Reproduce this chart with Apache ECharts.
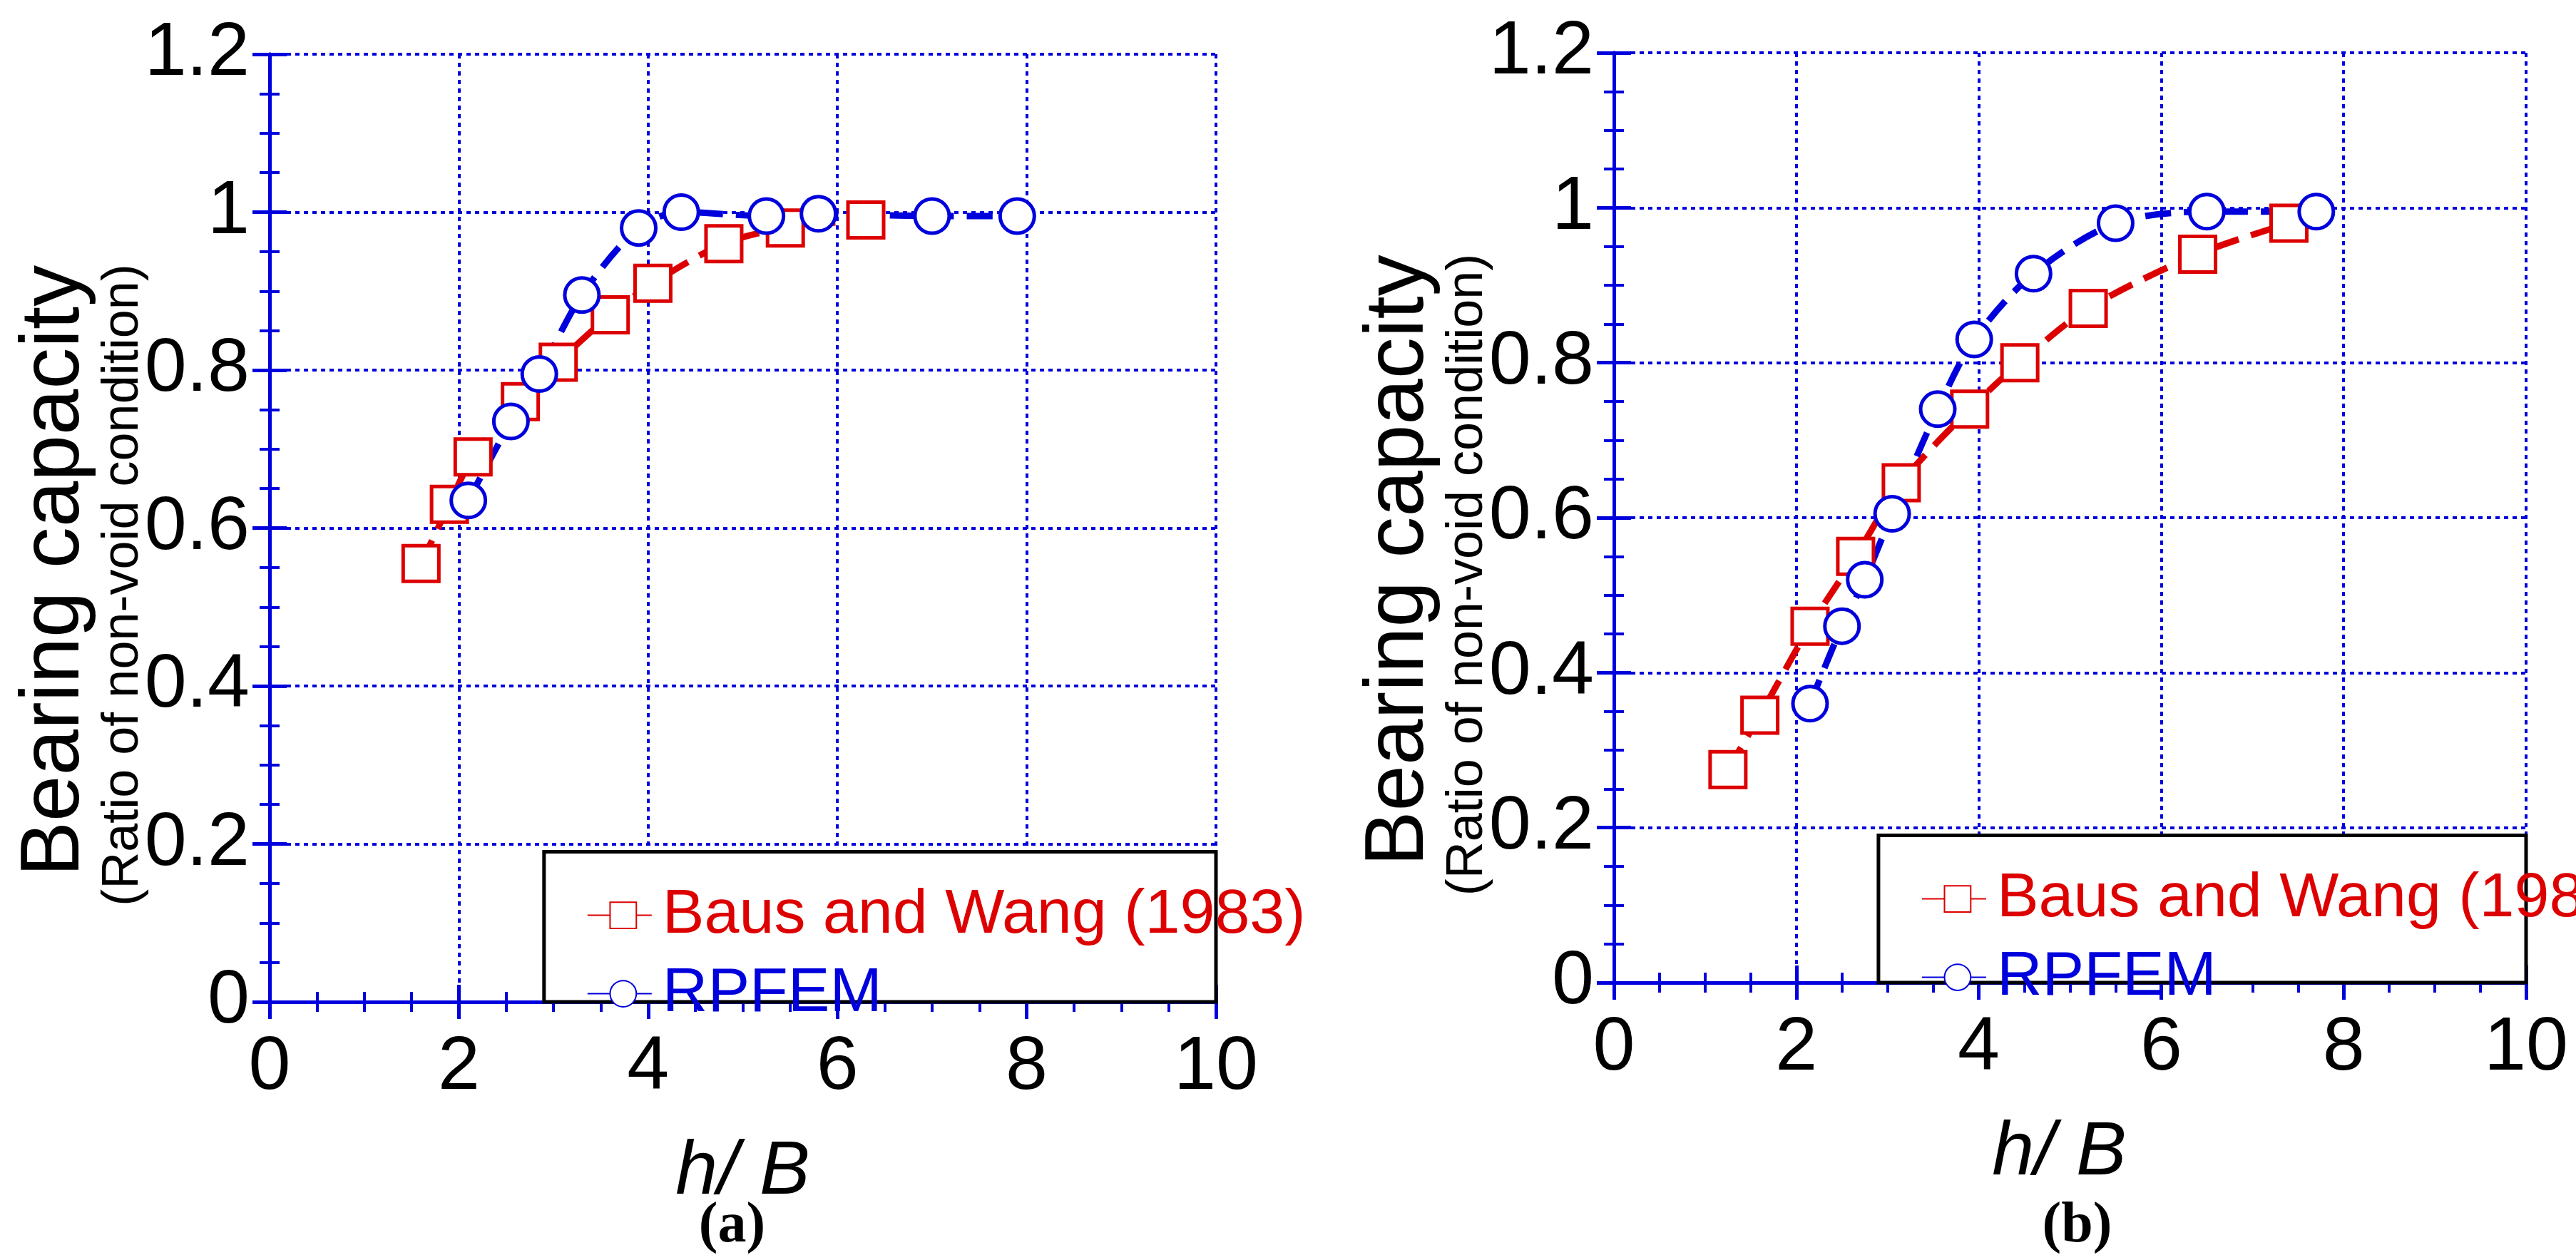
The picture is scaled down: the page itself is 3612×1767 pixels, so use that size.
<!DOCTYPE html><html><head><meta charset="utf-8"><script src="https://cdn.jsdelivr.net/npm/echarts@6/dist/echarts.min.js"></script>
<style>html,body{margin:0;background:#fff}#c{width:3612px;height:1767px}</style></head><body><div id="c"></div><script>
const xTicks=[0,2,4,6,8,10];
const yTicks=[0,0.2,0.4,0.6,0.8,1,1.2];
const aBausX=[1.6,1.9,2.15,2.65,3.05,3.6,4.05,4.8,5.45,6.3];
const aBausY=[0.555,0.63,0.69,0.76,0.81,0.87,0.91,0.96,0.98,0.99];
const aRpX=[2.1,2.55,2.85,3.3,3.9,4.35,5.25,5.8,7.0,7.9];
const aRpY=[0.635,0.735,0.795,0.895,0.98,1.0,0.995,0.998,0.995,0.995];
const bBausX=[1.25,1.6,2.15,2.65,3.15,3.9,4.45,5.2,6.4,7.4];
const bBausY=[0.275,0.345,0.46,0.55,0.645,0.74,0.8,0.87,0.94,0.98];
const bRpX=[2.15,2.5,2.75,3.05,3.55,3.95,4.6,5.5,6.5,7.7];
const bRpY=[0.36,0.46,0.52,0.605,0.74,0.83,0.915,0.98,0.995,0.995];
const zip=(x,y)=>x.map((v,i)=>[v,y[i]]);
const panels=[{l:378,r:1705,t:76,b:1405,lab:'(a)',d:[[aBausX,aBausY],[aRpX,aRpY]]},
              {l:2263,r:3542,t:74,b:1378,lab:'(b)',d:[[bBausX,bBausY],[bRpX,bRpY]]}];
const blue='#0000dd',red='#dd0000';
const grid=[],xAxis=[],yAxis=[],series=[],graphic=[],legend=[];
const names=['Baus and Wang (1983)','RPFEM'];
panels.forEach((p,i)=>{
  grid.push({left:p.l,top:p.t,width:p.r-p.l,height:p.b-p.t});
  const common={min:0,axisLine:{lineStyle:{color:blue,width:5}},axisTick:{inside:true,length:24,lineStyle:{color:blue,width:5}},minorTick:{show:true,splitNumber:4,length:14,lineStyle:{color:blue,width:4}},splitLine:{show:true,lineStyle:{color:blue,type:[6,6],width:4}}};
  xAxis.push(Object.assign({},common,{gridIndex:i,type:'value',max:10,interval:2,axisLabel:{fontSize:106,color:'#000',fontFamily:'Liberation Sans',margin:40}}));
  xAxis.push(Object.assign({},common,{gridIndex:i,type:'value',position:'top',max:10,interval:2,axisLabel:{show:false},splitLine:{show:false}}));
  yAxis.push(Object.assign({},common,{gridIndex:i,type:'value',max:1.2,interval:0.2,axisLabel:{fontSize:106,color:'#000',fontFamily:'Liberation Sans',margin:28,formatter:v=>String(+v.toFixed(1))}}));
  yAxis.push(Object.assign({},common,{gridIndex:i,type:'value',position:'right',max:1.2,interval:0.2,axisLabel:{show:false},splitLine:{show:false}}));
  [[red,'rect',50],[blue,'circle',48]].forEach((s,k)=>{
    series.push({type:'line',name:names[k],xAxisIndex:2*i,yAxisIndex:2*i,data:zip(p.d[k][0],p.d[k][1]),smooth:0.3,
      symbol:s[1],symbolSize:s[2],itemStyle:{color:'#fff',borderColor:s[0],borderWidth:5},
      lineStyle:{color:s[0],width:9,type:[36,18]},z:2});
  });
  const bx=p.l+(p.r-p.l)*0.29, by=p.b-(p.b-p.t)*0.19/1.2;
  graphic.push({type:'rect',shape:{x:bx,y:by,width:p.r-bx,height:p.b-by},style:{fill:'#fff',stroke:'#000',lineWidth:5},z:3});
  legend.push({data:[{name:names[0],textStyle:{color:red}},{name:names[1],textStyle:{color:blue}}],
    left:bx+55,top:by+40,orient:'vertical',itemGap:22,itemWidth:100,itemHeight:46,z:6,
    textStyle:{fontSize:88,fontFamily:'Liberation Sans'},selectedMode:false});
  const cx=(p.l+p.r)/2;
  graphic.push({type:'text',x:p.l-300,y:(p.t+p.b)/2+60,rotation:Math.PI/2,style:{text:'Bearing capacity',font:'116px Liberation Sans',fill:'#000',textAlign:'center',textVerticalAlign:'middle'},z:5});
  graphic.push({type:'text',x:p.l-205,y:(p.t+p.b)/2+80,rotation:Math.PI/2,style:{text:'(Ratio of non-void condition)',font:'72px Liberation Sans',fill:'#000',textAlign:'center',textVerticalAlign:'middle'},z:5});
  graphic.push({type:'text',x:cx+(i?-15:0),y:p.b+240,style:{text:'h/ B',font:'italic 106px Liberation Sans',fill:'#000',textAlign:'center',textVerticalAlign:'middle'},z:5});
  graphic.push({type:'text',x:cx-(i?-10:15),y:1720,style:{text:p.lab,font:'bold 80px Liberation Serif',fill:'#000',textAlign:'center',textVerticalAlign:'middle'},z:5});
});
const ch=echarts.init(document.getElementById('c'));
ch.setOption({animation:false,grid,xAxis,yAxis,series,graphic,legend});
</script></body></html>
